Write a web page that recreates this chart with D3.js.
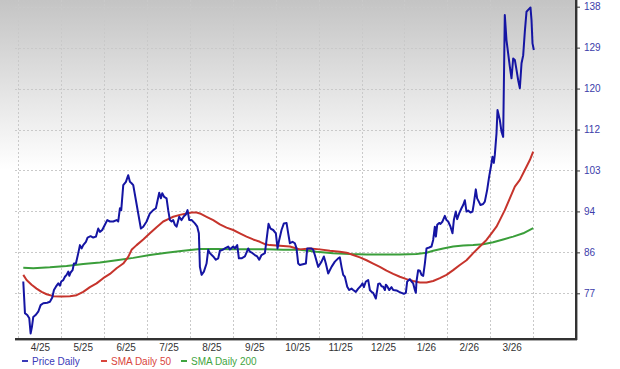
<!DOCTYPE html>
<html>
<head>
<meta charset="utf-8">
<script src="https://cdn.jsdelivr.net/npm/d3@7"></script>
<style>
html,body{margin:0;padding:0;background:#fff;}
svg{display:block;}
</style>
</head>
<body>
<div id="chart"></div>
<script>
// ---- DATA (x = months since 1 Apr 2025, trading-day axis) ----
const monthLabels = ["4/25","5/25","6/25","7/25","8/25","9/25","10/25","11/25","12/25","1/26","2/26","3/26"];
const yTickValues = [77, 85.667, 94.333, 103, 111.667, 120.333, 129, 137.667];

const priceT = [0.113,0.152,0.206,0.253,0.284,0.315,0.346,0.400,0.462,0.517,0.579,0.672,0.734,0.789,0.828,0.874,0.929,0.967,0.998,1.045,1.084,1.123,1.162,1.185,1.216,1.263,1.294,1.340,1.395,1.434,1.472,1.511,1.573,1.612,1.682,1.744,1.807,1.861,1.900,1.954,2.016,2.071,2.133,2.211,2.288,2.327,2.366,2.397,2.444,2.506,2.560,2.599,2.638,2.677,2.739,2.793,2.855,2.910,2.988,3.065,3.143,3.205,3.283,3.322,3.353,3.399,3.454,3.492,3.531,3.570,3.609,3.648,3.687,3.749,3.803,3.858,3.904,3.943,3.982,4.037,4.114,4.169,4.207,4.231,4.270,4.324,4.386,4.425,4.464,4.542,4.604,4.658,4.697,4.759,4.814,4.891,4.930,5.008,5.047,5.101,5.140,5.202,5.280,5.358,5.396,5.459,5.513,5.567,5.614,5.668,5.746,5.785,5.831,5.878,5.940,6.002,6.041,6.080,6.134,6.189,6.251,6.290,6.329,6.391,6.445,6.484,6.523,6.562,6.702,6.733,6.834,6.873,6.911,6.989,7.067,7.122,7.168,7.222,7.300,7.378,7.456,7.494,7.533,7.572,7.611,7.666,7.712,7.766,7.805,7.867,7.922,7.976,8.023,8.054,8.100,8.155,8.194,8.233,8.271,8.333,8.388,8.427,8.466,8.505,8.544,8.567,8.598,8.645,8.699,8.738,8.815,8.877,8.932,8.986,9.033,9.064,9.126,9.165,9.204,9.243,9.266,9.281,9.320,9.359,9.398,9.437,9.476,9.515,9.577,9.631,9.670,9.709,9.733,9.764,9.810,9.841,9.888,9.942,9.981,10.020,10.074,10.120,10.152,10.198,10.229,10.276,10.330,10.369,10.408,10.447,10.486,10.540,10.587,10.618,10.664,10.695,10.734,10.773,10.835,10.874,10.929,10.975,11.022,11.053,11.084,11.107,11.146,11.170,11.224,11.263,11.302,11.340,11.379,11.418,11.457,11.496,11.535,11.574,11.613,11.652,11.691,11.730,11.769,11.807,11.846,11.885,11.939,11.963,11.986,12.017];
const priceV = [79.5,72.8,72.4,71.7,68.5,69.9,72.0,72.4,73.1,74.5,74.9,75.0,75.2,76.1,77.7,78.4,79.1,78.6,79.5,79.8,80.5,80.9,81.6,80.7,81.4,81.9,83.3,83.3,85.5,87.2,86.5,87.2,87.9,88.8,89.1,88.8,89.0,90.7,90.0,90.4,91.5,92.5,92.2,92.2,92.5,92.2,95.0,94.6,99.9,100.6,102.0,100.6,100.3,99.9,96.7,93.9,90.7,91.1,92.2,93.9,94.6,95.0,98.3,97.1,98.2,97.4,97.1,94.6,92.5,92.2,92.5,91.5,91.1,93.2,92.5,93.3,93.7,94.6,92.5,92.5,91.8,91.1,89.7,82.6,80.9,81.6,83.3,86.2,85.5,84.8,84.1,84.4,86.0,86.2,86.5,86.9,86.3,86.9,86.5,87.2,84.4,84.4,84.8,86.5,85.8,85.5,85.1,84.8,84.1,85.1,85.5,88.3,91.7,90.7,90.4,89.7,86.5,88.3,90.4,91.8,91.9,89.7,87.6,87.9,87.6,86.5,83.3,83.0,83.3,86.5,86.5,86.2,85.1,82.6,83.7,84.8,83.3,81.2,82.6,83.7,84.4,84.6,82.6,80.9,80.5,78.4,77.7,78.0,77.7,77.3,78.0,78.5,79.1,78.3,79.5,79.8,77.7,77.3,77.1,75.9,79.0,79.1,78.5,78.4,77.7,78.8,78.5,77.7,78.3,77.7,77.6,77.3,77.1,76.9,77.1,79.5,80.0,79.5,79.1,77.7,77.1,79.5,81.9,81.8,80.9,80.7,83.3,86.5,86.7,86.9,88.3,91.1,89.0,91.5,91.9,91.7,92.2,93.4,92.5,92.2,91.1,89.7,92.5,94.3,92.7,93.9,95.0,95.7,96.7,94.3,94.5,94.1,94.3,96.0,99.0,97.1,96.4,95.7,95.9,96.4,98.9,101.7,104.1,105.9,104.6,106.3,110.8,115.8,113.7,111.2,110.1,135.9,130.6,127.8,125.0,122.5,126.7,126.4,124.3,122.1,120.4,125.7,127.4,132.4,136.6,137.0,137.5,134.8,129.9,128.5];

const sma50T = [0.113,0.190,0.307,0.423,0.540,0.657,0.812,1.006,1.200,1.356,1.511,1.667,1.822,1.977,2.133,2.288,2.444,2.560,2.638,2.755,2.910,3.065,3.221,3.376,3.492,3.609,3.765,3.920,4.037,4.153,4.231,4.386,4.542,4.697,4.852,5.008,5.163,5.318,5.474,5.629,5.746,5.862,6.018,6.173,6.329,6.484,6.562,6.795,7.028,7.261,7.494,7.650,7.805,7.961,8.116,8.271,8.427,8.582,8.738,8.893,9.049,9.204,9.359,9.515,9.670,9.826,9.981,10.136,10.292,10.447,10.603,10.758,10.913,11.030,11.146,11.224,11.340,11.457,11.574,11.691,11.807,11.924,12.002];
const sma50V = [80.9,79.8,78.8,78.0,77.3,76.8,76.4,76.3,76.4,76.6,77.3,78.3,79.1,80.2,81.1,82.3,83.3,84.7,86.2,87.2,88.4,89.7,91.0,92.2,92.7,93.2,93.6,93.9,94.1,94.1,93.9,93.2,92.5,91.6,90.9,90.4,89.7,89.0,88.4,87.9,87.4,87.2,87.1,87.0,86.9,86.5,86.3,86.5,86.3,86.0,85.8,85.6,85.1,84.6,84.0,83.3,82.6,81.8,81.1,80.5,80.0,79.6,79.3,79.3,79.6,80.2,80.9,81.9,83.0,84.0,85.5,86.9,88.3,89.7,91.1,92.5,94.6,97.1,99.6,101.0,103.1,105.2,107.0];

const sma200T = [0.113,0.346,0.734,1.123,1.511,1.900,2.288,2.677,3.065,3.454,3.843,4.231,4.619,5.008,5.396,5.785,6.173,6.562,6.950,7.339,7.728,8.116,8.505,8.893,9.281,9.515,9.670,9.903,10.136,10.369,10.603,10.835,11.068,11.302,11.535,11.769,12.002];
const sma200V = [82.4,82.3,82.5,82.8,83.2,83.5,84.0,84.5,85.1,85.6,86.0,86.4,86.4,86.3,86.3,86.3,86.2,86.2,85.8,85.5,85.3,85.2,85.2,85.2,85.3,85.6,86.0,86.5,86.9,87.1,87.2,87.4,87.8,88.4,89.0,89.7,90.8];

const seriesNames = ["Price Daily","SMA Daily 50","SMA Daily 200"];
const seriesColors = ["#1515a3","#c6342c","#3a9e3a"];
const legendColors = ["#3a3ab8","#d9453c","#3fa53f"];

// ---- CHART ----
(function () {
const W = 620, H = 369;
const pL = 15, pR = 576, pT = 0, pB = 339;

const svg = d3.select("#chart").append("svg").attr("width", W).attr("height", H);
const defs = svg.append("defs");
const grad = defs.append("linearGradient").attr("id","bg").attr("x1",0).attr("y1",0).attr("x2",0).attr("y2",1);
grad.append("stop").attr("offset","0%").attr("stop-color","#c4c4c4");
grad.append("stop").attr("offset","50%").attr("stop-color","#ffffff");
grad.append("stop").attr("offset","100%").attr("stop-color","#ffffff");

svg.append("rect").attr("x",0).attr("y",0).attr("width",pR).attr("height",pB).attr("fill","url(#bg)");

const x = d3.scaleLinear().domain([-0.08, 13.0]).range([pL, pR]);
const y = d3.scaleLinear().domain([67.33, 139.08]).range([pB, pT]);

// grid
const gridColor = "#c9c9c9";
svg.append("g").selectAll("line").data(d3.range(0, 13)).join("line")
  .attr("x1", d => Math.round(x(d)) + 0.5).attr("x2", d => Math.round(x(d)) + 0.5)
  .attr("y1", pT).attr("y2", pB)
  .attr("stroke", gridColor).attr("stroke-dasharray","2,2");
svg.append("g").selectAll("line").data(yTickValues).join("line")
  .attr("x1", pL).attr("x2", pR)
  .attr("y1", d => Math.round(y(d)) + 0.5).attr("y2", d => Math.round(y(d)) + 0.5)
  .attr("stroke", gridColor).attr("stroke-dasharray","2,2");

// lines
const line = (T, V) => d3.line().x((d,i) => x(T[i])).y((d,i) => y(V[i]))(V);
const plot = svg.append("g");
plot.append("path").attr("d", line(sma200T, sma200V)).attr("fill","none").attr("stroke",seriesColors[2]).attr("stroke-width",2).attr("stroke-linejoin","round");
plot.append("path").attr("d", line(sma50T, sma50V)).attr("fill","none").attr("stroke",seriesColors[1]).attr("stroke-width",2).attr("stroke-linejoin","round");
plot.append("path").attr("d", line(priceT, priceV)).attr("fill","none").attr("stroke",seriesColors[0]).attr("stroke-width",2).attr("stroke-linejoin","round");

// axes frame
svg.append("line").attr("x1",pL).attr("x2",pR+1).attr("y1",pB+1.5).attr("y2",pB+1.5).attr("stroke","#aaaaaa").attr("stroke-width",1);
svg.append("line").attr("x1",pL).attr("x2",pR+1).attr("y1",pB).attr("y2",pB).attr("stroke","#333").attr("stroke-width",2);
svg.append("line").attr("x1",pR+1.5).attr("x2",pR+1.5).attr("y1",pT).attr("y2",pB+1).attr("stroke","#aaaaaa").attr("stroke-width",1);
svg.append("line").attr("x1",pR).attr("x2",pR).attr("y1",pT).attr("y2",pB+1).attr("stroke","#333").attr("stroke-width",2);

// right axis
const yAxis = d3.axisRight(y).tickValues(yTickValues).tickFormat(d3.format(".0f")).tickSize(4).tickPadding(4);
const ya = svg.append("g").attr("transform", `translate(${pR},0)`).call(yAxis);
ya.select(".domain").remove();
ya.selectAll(".tick line").attr("stroke","#333");
ya.selectAll(".tick text").attr("fill","#3c3caa").style("font-family","'Liberation Sans', Arial, sans-serif").style("font-size","10px");

// bottom axis labels (centered within months)
const xAxis = d3.axisBottom(x).tickValues(d3.range(0, 12).map(i => i + 0.5)).tickFormat((d,i) => monthLabels[i]).tickSize(0).tickPadding(4);
const xa = svg.append("g").attr("transform", `translate(0,${pB+1})`).call(xAxis);
xa.select(".domain").remove();
xa.selectAll(".tick text").attr("fill","#333").style("font-family","'Liberation Sans', Arial, sans-serif").style("font-size","10px");

// legend
const legendX = [22, 101, 181];
const lg = svg.append("g");
seriesNames.forEach((n, i) => {
  lg.append("rect").attr("x", legendX[i]).attr("y", 360).attr("width", 6).attr("height", 2).attr("fill", legendColors[i]);
  lg.append("text").attr("x", legendX[i] + 10).attr("y", 365).text(n)
    .attr("fill", legendColors[i]).style("font-family","'Liberation Sans', Arial, sans-serif").style("font-size","10px");
});
})();
</script>
</body>
</html>
